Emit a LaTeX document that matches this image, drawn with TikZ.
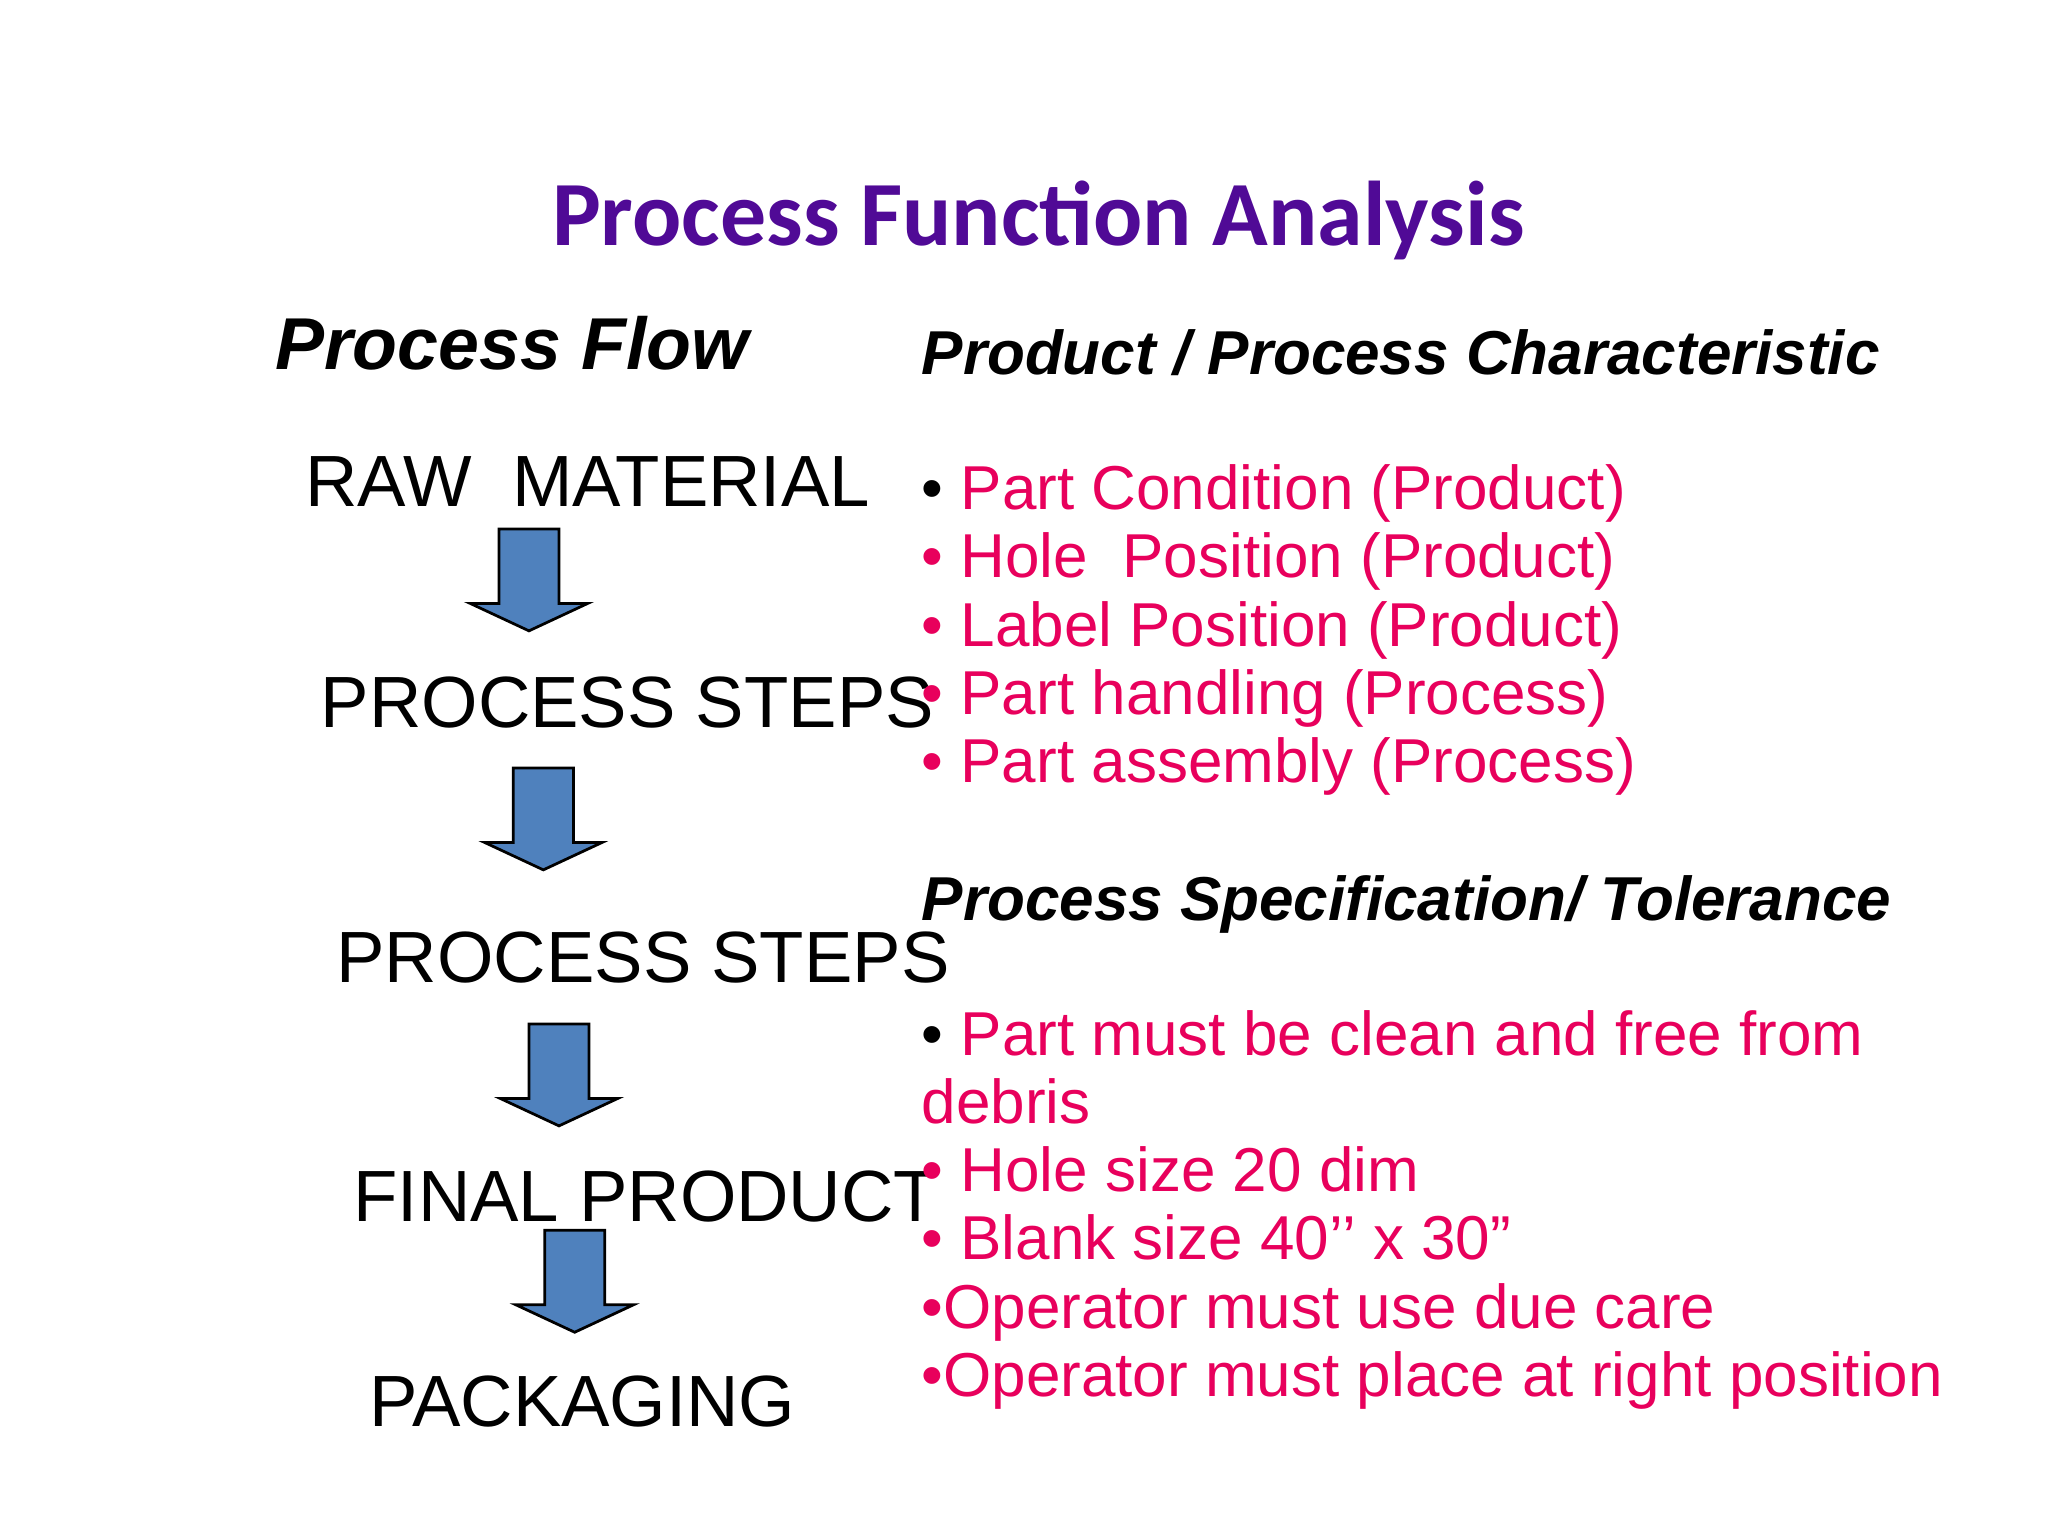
\documentclass[tikz,border=0pt]{standalone}
\usepackage{fontspec}
\setmainfont{Liberation Sans}
\newfontfamily\titlefont{Carlito}
\usetikzlibrary{positioning}
\definecolor{titlepurple}{RGB}{80,10,150}
\definecolor{itempink}{RGB}{232,0,92}
\definecolor{arrowblue}{RGB}{79,129,189}
\begin{document}
\begin{tikzpicture}[x=0.01cm,y=-0.01cm,
    flowlabel/.style={anchor=base west,inner sep=0pt,font=\fontsize{15.8}{18}\selectfont},
    heading/.style={anchor=base west,inner sep=0pt,font=\fontsize{13.5}{16}\selectfont\bfseries\itshape},
    item/.style={anchor=base west,inner sep=0pt,font=\fontsize{13.5}{16}\selectfont,text=itempink},
    flowarrow/.style={draw=black,fill=arrowblue,line width=0.6pt}
    ]
    \useasboundingbox (0,0) rectangle (1568,1176);
    % title
    \node[anchor=base,inner sep=0pt,text=titlepurple,font=\fontsize{20}{24}\selectfont\titlefont\bfseries] (title) at (795,188) {Process Function Analysis};
    % left column
    \node[anchor=base west,inner sep=0pt,font=\fontsize{16}{19}\selectfont\bfseries\itshape] (flowhead) at (210,283) {Process Flow};
    \node[flowlabel] (raw) at (233,388) {RAW\ \ MATERIAL};
    \node[flowlabel] (steps1) at (245,557) {PROCESS STEPS};
    \node[flowlabel] (steps2) at (257,752) {PROCESS STEPS};
    \node[flowlabel] (final) at (270,935) {FINAL PRODUCT};
    \node[flowlabel] (pack) at (282,1092) {PACKAGING};
    % block arrows between the steps
    \foreach \x/\y in {405/405, 416/588, 428/784, 440/942} {
        \draw[flowarrow] (\x-23,\y) -- ++(46,0) -- ++(0,57) -- ++(22,0)
            -- (\x,\y+78) -- (\x-45,\y+57) -- ++(22,0) -- cycle;
    }
    % right column
    \node[heading] (charhead) at (705,287) {Product / Process Characteristic};
    \node[item] (c1) at (705,390) {\textcolor{black}{•} Part Condition (Product)};
    \node[item] (c2) at (705,442) {• Hole\ \ Position (Product)};
    \node[item] (c3) at (705,495) {• Label Position (Product)};
    \node[item] (c4) at (705,547) {• Part handling (Process)};
    \node[item] (c5) at (705,599) {• Part assembly (Process)};
    \node[heading] (spechead) at (705,705) {Process Specification/ Tolerance};
    \node[item] (s1) at (705,808) {\textcolor{black}{•} Part must be clean and free from};
    \node[item] (s1b) at (705,860) {debris};
    \node[item] (s2) at (705,912) {• Hole size 20 dim};
    \node[item] (s3) at (705,964) {• Blank size 40’’ x 30”};
    \node[item] (s4) at (705,1017) {•Operator must use due care};
    \node[item] (s5) at (705,1069) {•Operator must place at right position};
\end{tikzpicture}
\end{document}
